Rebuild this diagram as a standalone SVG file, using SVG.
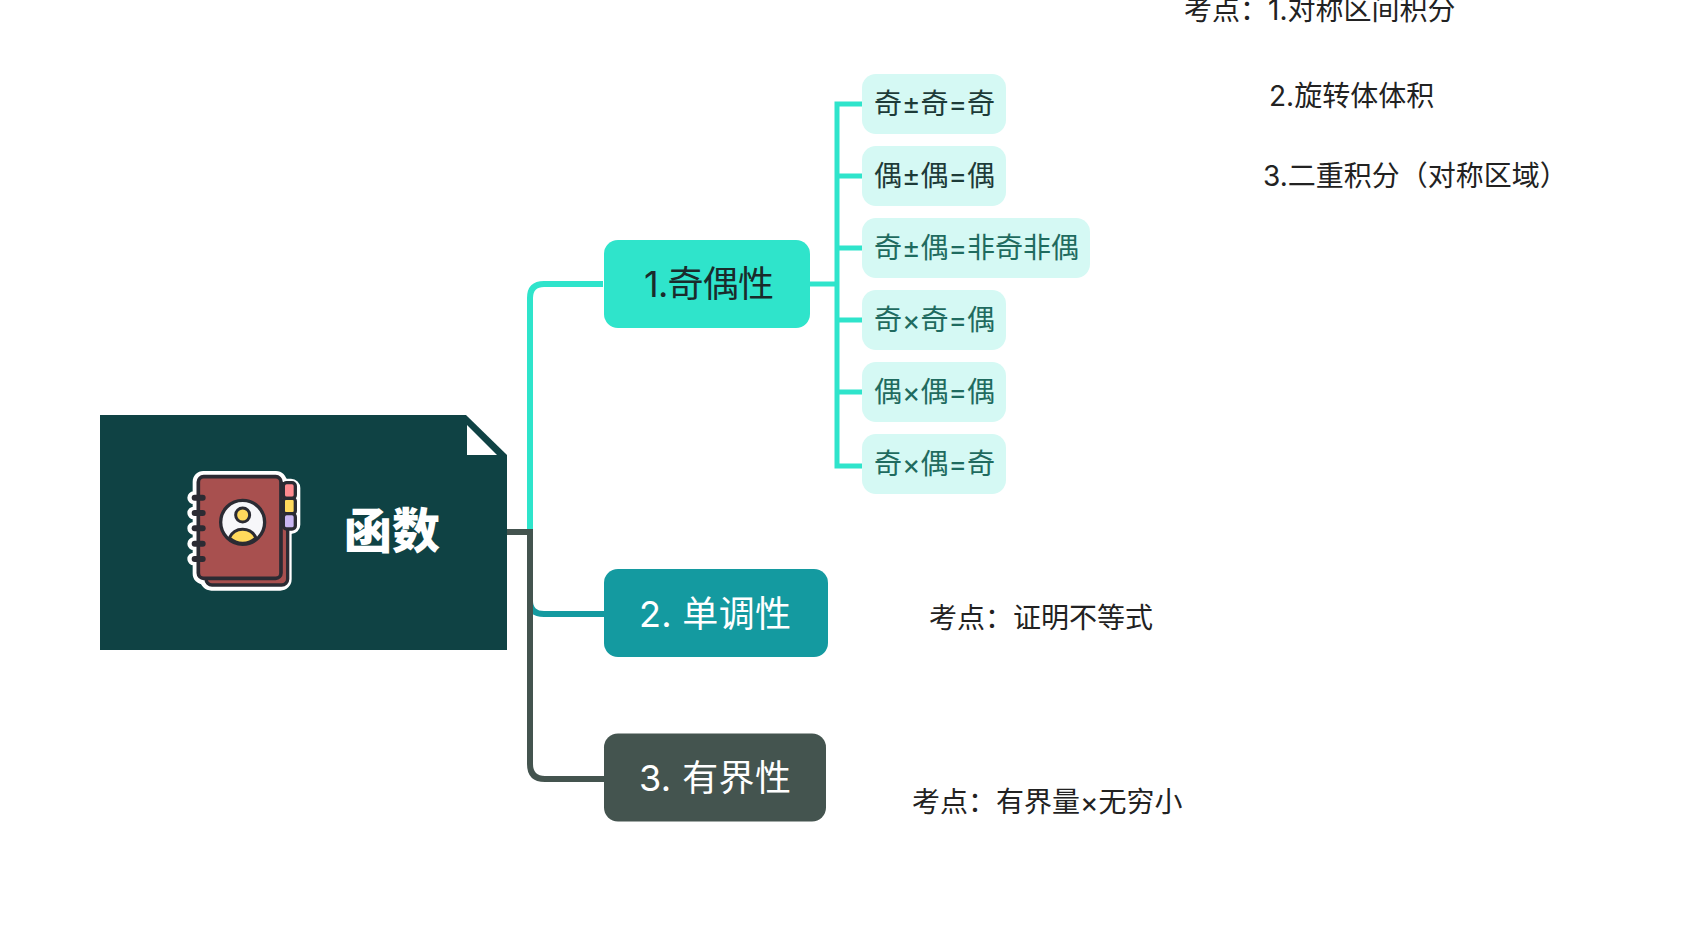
<svg xmlns="http://www.w3.org/2000/svg" width="1688" height="950" viewBox="0 0 1688 950">
<style>
text{font-family:"Inter","Noto Sans CJK SC",sans-serif;dominant-baseline:central}
.sub{font-size:28px}
.topic{font-size:36px}
.note{font-size:28px;fill:#222}
.c{fill:none;stroke-width:6}
.g{fill:none;stroke:#2FE4CB;stroke-width:5}
.sb{fill:#D5F9F4}
</style>
<rect width="1688" height="950" fill="#fff"/>
<g id="connectors">
<path class="c" stroke="#2FE4CB" d="M533 531V298Q533 284 547 284H606" transform="translate(-3 0)"/>
<path class="c" stroke="#149AA0" d="M530 559V601Q530 614 544 614H606"/>
<path class="c" stroke="#44544F" d="M507 532H530V764Q530 779 545 779H606"/>
<path class="g" d="M809 284H836"/>
<path class="g" d="M864 104H837V466H864M837 176H864M837 248H864M837 320H864M837 392H864"/>
</g>
<g id="root">
<path d="M100 415H466L507 455V650H100Z" fill="#0F4244"/>
<path d="M467 425L497 455H467Z" fill="#fff"/>
<g transform="translate(170 460) scale(.3333)">
<g fill="#fff" stroke="#fff" stroke-width="20" stroke-linejoin="round">
<rect x="78" y="43" width="262" height="320" rx="22"/>
<rect x="100" y="60" width="255" height="322" rx="24"/>
<rect x="335" y="66" width="46" height="146" rx="18"/>
<rect x="62" y="104" width="40" height="18" rx="9"/>
<rect x="62" y="150" width="40" height="18" rx="9"/>
<rect x="62" y="196" width="40" height="18" rx="9"/>
<rect x="62" y="242" width="40" height="18" rx="9"/>
<rect x="62" y="288" width="40" height="18" rx="9"/>
</g>
<rect x="108" y="70" width="245" height="305" rx="18" fill="#A8504F" stroke="#2B2B33" stroke-width="10"/>
<rect x="340" y="68" width="36" height="47" rx="10" fill="#FF8A8F" stroke="#2B2B33" stroke-width="10"/>
<rect x="340" y="115" width="36" height="46" rx="8" fill="#FFD95C" stroke="#2B2B33" stroke-width="10"/>
<rect x="340" y="161" width="36" height="46" rx="10" fill="#C9B6F2" stroke="#2B2B33" stroke-width="10"/>
<rect x="85" y="50" width="248" height="305" rx="16" fill="#A8504F" stroke="#2B2B33" stroke-width="11"/>
<g fill="#2B2B33">
<rect x="65" y="104" width="42" height="18" rx="9"/>
<rect x="65" y="150" width="42" height="18" rx="9"/>
<rect x="65" y="196" width="42" height="18" rx="9"/>
<rect x="65" y="242" width="42" height="18" rx="9"/>
<rect x="65" y="288" width="42" height="18" rx="9"/>
</g>
<circle cx="218" cy="187" r="66" fill="#F7F7FA" stroke="#2B2B33" stroke-width="10"/>
<circle cx="218" cy="165" r="21" fill="#FFD95C" stroke="#2B2B33" stroke-width="9"/>
<path d="M178 234Q190 208 218 208Q246 208 258 234Q240 250 218 250Q196 250 178 234Z" fill="#FFD95C" stroke="#2B2B33" stroke-width="9"/>
</g>
<text x="344" y="530" font-size="48" font-weight="900" fill="#fff">函数</text>
</g>
<g id="topic1"><rect x="604" y="240" width="206" height="88" rx="14" fill="#2FE4CB"/><text class="topic" x="644" y="284" fill="#1A2B2B" textLength="130">1.奇偶性</text></g>
<g id="topic2"><rect x="604" y="569" width="224" height="88" rx="14" fill="#149AA0"/><text class="topic" x="639" y="614" fill="#fff" textLength="152">2. 单调性</text></g>
<g id="topic3"><rect x="604" y="733.500" width="222" height="88" rx="14" fill="#44544F"/><text class="topic" x="639" y="778" fill="#fff" textLength="152">3. 有界性</text></g>
<g id="s1"><rect class="sb" x="862" y="74" width="144" height="60" rx="14"/><text class="sub" x="874" y="104" fill="#1D3B38">奇±奇=奇</text></g>
<g id="s2"><rect class="sb" x="862" y="146" width="144" height="60" rx="14"/><text class="sub" x="874" y="176" fill="#1D3B38">偶±偶=偶</text></g>
<g id="s3"><rect class="sb" x="862" y="218" width="228" height="60" rx="14"/><text class="sub" x="874" y="248" fill="#1F6B5F">奇±偶=非奇非偶</text></g>
<g id="s4"><rect class="sb" x="862" y="290" width="144" height="60" rx="14"/><text class="sub" x="874" y="320" fill="#1F6B5F">奇×奇=偶</text></g>
<g id="s5"><rect class="sb" x="862" y="362" width="144" height="60" rx="14"/><text class="sub" x="874" y="392" fill="#1F6B5F">偶×偶=偶</text></g>
<g id="s6"><rect class="sb" x="862" y="434" width="144" height="60" rx="14"/><text class="sub" x="874" y="464" fill="#1F6B5F">奇×偶=奇</text></g>
<g id="n1"><text class="note" x="1184" y="10">考点：1.对称区间积分</text></g>
<g id="n2"><text class="note" x="1269" y="96">2.旋转体体积</text></g>
<g id="n3"><text class="note" x="1263" y="176">3.二重积分（对称区域）</text></g>
<g id="n4"><text class="note" x="929" y="618">考点：证明不等式</text></g>
<g id="n5"><text class="note" x="912" y="802">考点：有界量×无穷小</text></g>
</svg>
